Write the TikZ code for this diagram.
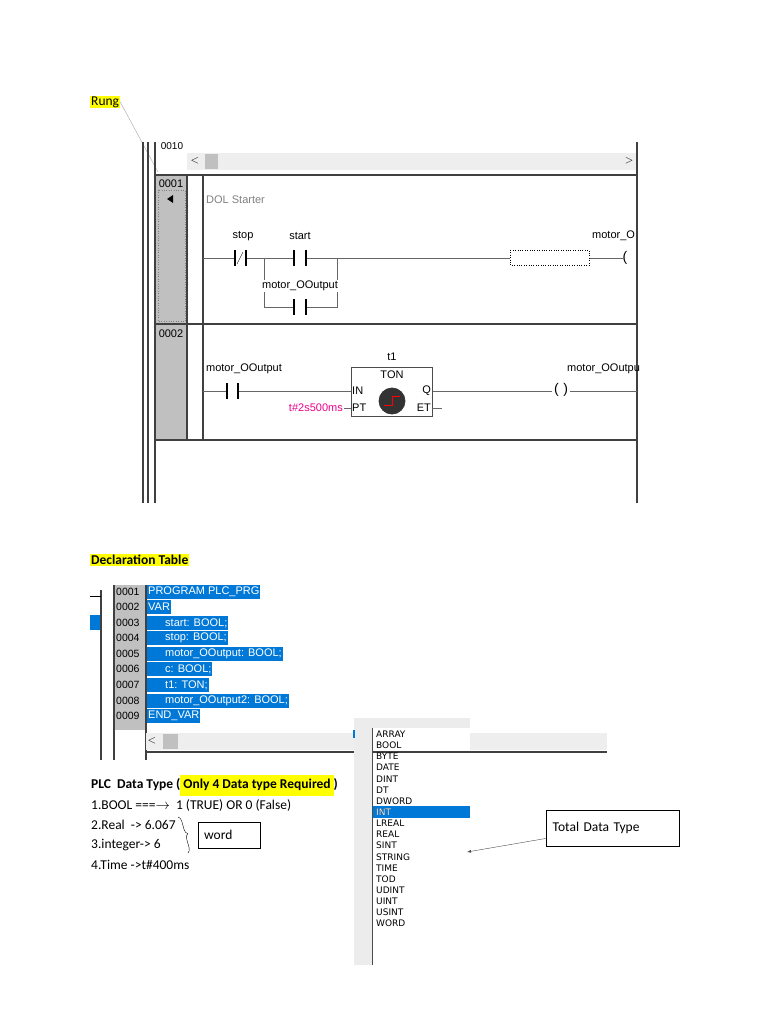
\documentclass[tikz,border=0pt]{standalone}
\usepackage{fontspec}
\setmainfont{Liberation Sans}
\newfontfamily\calfont{Carlito}
\newfontfamily\listfont{DejaVu Sans}
\usetikzlibrary{positioning,decorations.pathreplacing}
\definecolor{selblue}{RGB}{0,120,215}
\definecolor{hiyel}{RGB}{255,255,0}
\definecolor{colgray}{RGB}{192,192,192}
\definecolor{barlight}{RGB}{238,238,238}
\tikzset{
  scr/.style={font=\fontsize{11}{12}\selectfont, inner sep=1pt},
  note/.style={font=\calfont\fontsize{13.5}{15}\selectfont, inner sep=1pt, anchor=west},
  hl/.style={note, fill=hiyel},
  code/.style={font=\fontsize{11}{12}\selectfont, text=white, fill=selblue, inner sep=1pt, anchor=west, minimum height=14pt},
  lnum/.style={font=\fontsize{10.5}{12}\selectfont, inner sep=0pt, anchor=west},
  item/.style={font=\listfont\fontsize{9}{10}\selectfont, inner sep=0pt, anchor=west},
  wire/.style={line width=0.8pt, gray!80!black},
  bar/.style={line width=1.6pt},
  frame/.style={line width=1.2pt, black!75}
}
\begin{document}
\begin{tikzpicture}[x=1pt,y=-1pt]
  \useasboundingbox (0,0) rectangle (768,1024);
  % rung annotation
  \node[hl] (rung) at (90,102) {Rung};
  \coordinate (rungtip) at (158,172);
  \draw[gray!70] (rung.east) -- (rungtip);
  % ladder window
  \fill[colgray] (155,175) rectangle (187,440);
  \fill[barlight] (187,153) rectangle (637,170);
  \fill[colgray] (205,154) rectangle (218,169);
  \node[scr] (lt) at (195,161) {$<$};
  \node[scr] (gt) at (629,161) {$>$};
  \draw[frame] (143,142) -- (143,503) (148,142) -- (148,503) (155,142) -- (155,503);
  \draw[frame] (637,142) -- (637,503);
  \draw[frame] (155,175) -- (637,175) (155,324) -- (637,324) (155,440) -- (637,440);
  \draw[frame] (187,175) -- (187,440) (203,175) -- (203,440);
  \draw[dotted, gray] (158,190) rectangle (185,321);
  \node[scr, font=\fontsize{10}{11}\selectfont] (n10) at (172,146) {0010};
  \node[scr] (n1) at (171,184) {0001};
  \fill (167,199) -- (173,195) -- (173,203) -- cycle;
  \node[scr, text=gray, anchor=west] (dol) at (205,200) {DOL Starter};
  % rung 1
  \draw[wire] (203,258) -- (235,258) (246,258) -- (294,258) (306,258) -- (510,258) (589,258) -- (623,258);
  \draw[bar] (235,250) -- (235,266) (246,250) -- (246,266);
  \draw (237,264) -- (243,252);
  \node[scr] (stop) at (243,236) {stop};
  \draw[bar] (294,250) -- (294,266) (306,250) -- (306,266);
  \node[scr] (start) at (300,236) {start};
  \draw[wire] (264,258) -- (264,307) -- (294,307) (306,307) -- (337,307) -- (337,258);
  \draw[bar] (294,299) -- (294,315) (306,299) -- (306,315);
  \node[scr, fill=white] (mo1) at (300,286) {motor\_OOutput};
  \draw[dotted] (510,250) rectangle (589,265);
  \node[scr, anchor=west] (mo2) at (591,236) {motor\_O};
  \node[scr, font=\fontsize{14}{14}\selectfont] (coil1) at (625,258) {(};
  % rung 2
  \node[scr] (n2) at (171,334) {0002};
  \draw[wire] (203,391) -- (227,391) (238,391) -- (351,391) (432,391) -- (552,391) (570,391) -- (637,391);
  \draw[bar] (227,383) -- (227,399) (238,383) -- (238,399);
  \node[scr] (mo3) at (244,369) {motor\_OOutput};
  \draw[thick, black!70] (351,367) rectangle (432,416);
  \node[scr] (t1) at (392,357) {t1};
  \node[scr] (ton) at (392,375) {TON};
  \node[scr, anchor=west] (pin) at (351,391) {IN};
  \node[scr, anchor=west] (ppt) at (351,408) {PT};
  \node[scr, anchor=east] (pq) at (432,391) {Q};
  \node[scr, anchor=east] (pet) at (432,408) {ET};
  \draw[fill=gray!55, thick, gray!40!black] (392,401) circle (13);
  \draw[red, thick] (384,405) -- (392,405) -- (392,396) -- (400,396);
  \node[scr, text=magenta, anchor=east] (tdel) at (344,408) {t\#2s500ms};
  \draw[wire] (tdel.east) -- (ppt.west) (pet.east) -- +(10,0);
  \node[scr, font=\fontsize{14}{14}\selectfont] (coil2) at (561,390) {(\,\,)};
  \node[scr, anchor=west] (mo4) at (566,369) {motor\_OOutpu};
  % declaration table
  \node[hl] (decl) at (90,560) {\bfseries Declaration Table};
  \fill[colgray] (114,585) rectangle (146,730);
  \draw[frame] (101,590) -- (101,760) (114,585) -- (114,760) (146,585) -- (146,760);
  \draw (90,596) -- (101,596);
  \fill[selblue] (90,615) rectangle (100,630);
  \foreach \n/\y in {1/592,2/607,3/623,4/638,5/654,6/669,7/685,8/701,9/716}
    \node[lnum] at (116,\y) {000\n};
  \node[code] at (147,592) {PROGRAM PLC\_PRG};
  \node[code] at (147,607) {VAR};
  \node[code] at (147,623) {\hspace{17pt}start: BOOL;};
  \node[code] at (147,638) {\hspace{17pt}stop: BOOL;};
  \node[code] at (147,654) {\hspace{17pt}motor\_OOutput: BOOL;};
  \node[code] at (147,669) {\hspace{17pt}c: BOOL;};
  \node[code] at (147,685) {\hspace{17pt}t1: TON;};
  \node[code] at (147,701) {\hspace{17pt}motor\_OOutput2: BOOL;};
  \node[code] at (147,716) {END\_VAR};
  \fill[barlight] (146,733) rectangle (607,750);
  \fill[colgray] (163,734) rectangle (178,749);
  \node[scr] at (152,741) {$<$};
  \draw[frame] (146,752) -- (607,752);
  % data type list
  \fill[gray!15] (354,718) rectangle (470,728);
  \fill[gray!15] (354,728) rectangle (372,965);
  \draw[thick, gray!60!black] (372,728) -- (372,965);
  \fill[white] (373,728) rectangle (470,750);
  \fill[selblue] (353,730) rectangle (355,738);
  \fill[selblue] (373,806) rectangle (470,818);
  \foreach [count=\i] \t in {ARRAY,BOOL,BYTE,DATE,DINT,DT,DWORD,INT,LREAL,REAL,SINT,STRING,TIME,TOD,UDINT,UINT,USINT,WORD}
    \node[item] (dt\i) at (376,723+11.15*\i) {\t};
  \node[item, text=white] at (376,812) {INT};
  % notes
  \node[note] (plc) at (90,785) {\bfseries PLC\ \ Data Type (\colorbox{hiyel}{\strut Only 4 Data type Required})};
  \node[note] (l1) at (90,805) {1.BOOL ===$\rightarrow$\ \ 1 (TRUE) OR 0 (False)};
  \node[note] (l2) at (90,825) {2.Real\ \ -> 6.067};
  \node[note] (l3) at (90,845) {3.integer-> 6};
  \node[note] (l4) at (90,865) {4.Time ->t\#400ms};
  \draw[decorate, decoration={brace, amplitude=5pt}] (178,817) -- (188,853);
  \node[note, draw, minimum width=62pt, minimum height=26pt, anchor=north west, text width=50pt] (word) at (198,822) {word};
  \node[note, draw, minimum width=133pt, minimum height=36pt, anchor=north west, text width=120pt] (total) at (546,810) {Total Data Type};
  \coordinate (totaltip) at (467,852);
  \draw[-latex, gray!60!black] (total.south west) ++(0,-8) -- (totaltip);
\end{tikzpicture}
\end{document}
